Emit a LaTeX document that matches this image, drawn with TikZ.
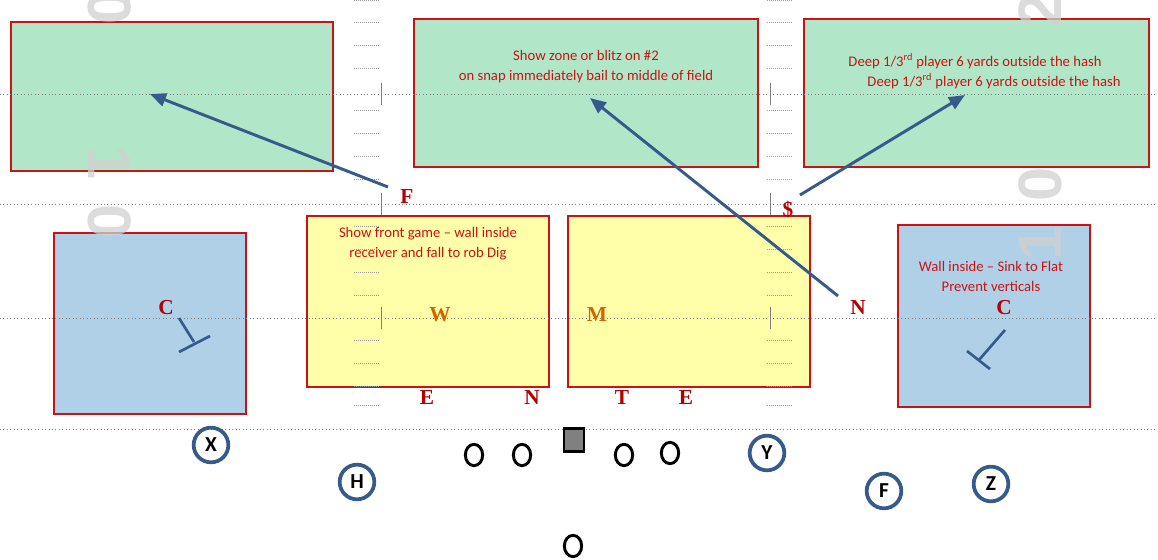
\documentclass[tikz,border=0pt]{standalone}
\usepackage{fontspec}
\setmainfont{Carlito}
\newfontfamily\numfont{Liberation Sans}
\newfontfamily\serf{Liberation Serif}
\usetikzlibrary{arrows.meta,shapes.geometric}
\definecolor{zgreen}{RGB}{178,230,200}
\definecolor{zyellow}{RGB}{255,255,170}
\definecolor{zblue}{RGB}{176,208,232}
\definecolor{zred}{RGB}{200,20,20}
\definecolor{lred}{RGB}{180,0,0}
\definecolor{arr}{RGB}{55,90,140}
\definecolor{wor}{RGB}{210,100,0}
\begin{document}
\begin{tikzpicture}[x=0.75pt,y=-0.75pt,
  zone/.style={draw=zred,line width=0.8pt},
  txt/.style={text=zred,font=\fontsize{11}{15}\selectfont,align=center,inner sep=0},
  lab/.style={text=lred,font=\serf\bfseries\fontsize{16}{16}\selectfont,inner sep=1pt},
  mv/.style={draw=arr,line width=2.2pt,-{Triangle[length=12pt,width=10pt]}},
  ply/.style={circle,draw=arr,line width=2.8pt,minimum size=26pt,inner sep=0,font=\bfseries\fontsize{16}{16}\selectfont},
  ol/.style={ellipse,draw=black,line width=2.2pt,minimum width=13pt,minimum height=16pt,inner sep=0},
  yl/.style={draw=gray,dotted,line width=0.6pt},
  hm/.style={draw=gray!80,densely dotted,line width=0.5pt},
  ydnum/.style={text=black!18,font=\numfont\bfseries\fontsize{46}{46}\selectfont,inner sep=0}]
\useasboundingbox (0,0) rectangle (1158,560);
\fill[white] (0,0) rectangle (1158,560);
% zones
\filldraw[zone,fill=zgreen] (11,22) rectangle (333,171);
\filldraw[zone,fill=zgreen] (414,19) rectangle (758,167);
\filldraw[zone,fill=zgreen] (804,19) rectangle (1149,167);
\filldraw[zone,fill=zyellow] (307,216) rectangle (549,387);
\filldraw[zone,fill=zyellow] (568,216) rectangle (810,387);
\filldraw[zone,fill=zblue] (54,233) rectangle (246,414);
\filldraw[zone,fill=zblue] (898,225) rectangle (1090,407);
% yard numbers
\begin{scope}[opacity=0.75]
\node[ydnum,rotate=-90] (n1) at (110,163) {1};
\node[ydnum,rotate=-90] (n2) at (110,222) {0};
\node[ydnum,rotate=-90] (n3) at (110,8) {0};
\node[ydnum,rotate=90] (n4) at (1040,184) {0};
\node[ydnum,rotate=90] (n5) at (1040,243) {1};
\node[ydnum,rotate=90] (n6) at (1040,10) {2};
\end{scope}
% yard lines
\foreach \y in {94,204,318,429} \draw[yl] (0,\y) -- (1158,\y);
% hash marks
\foreach \y in {0,22,45,68,110,133,156,179,226,249,272,295,340,363,386,405}{
  \draw[hm] (354,\y) -- (380,\y);
  \draw[hm] (767,\y) -- (793,\y);}
\foreach \y in {94,204,318}{
  \draw[gray,line width=0.5pt] (381,\y-11) -- (381,\y+11);
  \draw[gray,line width=0.5pt] (770,\y-11) -- (770,\y+11);}
% texts
\node[txt] (t1) at (586,67) {Show zone or blitz on \#2\\on snap immediately bail to middle of field};
\node[txt] (t2a) at (975,61) {Deep 1/3\textsuperscript{rd} player 6 yards outside the hash};
\node[txt] (t2b) at (994,81) {Deep 1/3\textsuperscript{rd} player 6 yards outside the hash};
\node[txt] (t3) at (428,244) {Show front game -- wall inside\\receiver and fall to rob Dig};
\node[txt] (t4) at (991,276) {Wall inside -- Sink to Flat\\Prevent verticals};
% defenders
\node[lab] (F) at (407,197) {F};
\node[lab] (Nd) at (858,308) {N};
\node[lab] (S) at (788,210) {\$};
\node[lab,text=wor] (W) at (440,315) {W};
\node[lab,text=wor] (M) at (597,315) {M};
\node[lab] (E1) at (427,398) {E};
\node[lab] (N2) at (532,398) {N};
\node[lab] (T) at (622,398) {T};
\node[lab] (E2) at (686,398) {E};
\node[lab] (C1) at (166,308) {C};
\node[lab] (C2) at (1004,308) {C};
\coordinate (fa) at (150,94);
\coordinate (na) at (590,98);
\coordinate (sa) at (965,95);
\coordinate (fs) at (388,187);
\coordinate (ns) at (838,296);
\coordinate (ss) at (800,195);
\draw[mv] (fs) -- (fa);
\draw[mv] (ns) -- (na);
\draw[mv] (ss) -- (sa);
% T marks
\coordinate (c1a) at (179,318); \coordinate (c1b) at (194,342);
\draw[arr,line width=2pt] (c1a) -- (c1b);
\draw[arr,line width=2pt] (179,352) -- (210,336);
\coordinate (c2a) at (1005,330); \coordinate (c2b) at (979,360);
\draw[arr,line width=2pt] (c2a) -- (c2b);
\draw[arr,line width=2pt] (967,351) -- (990,369);
% offense
\node[ply] (X) at (211,445) {X};
\node[ply] (H) at (357,482) {H};
\node[ply] (Y) at (767,453) {Y};
\node[ply] (Fo) at (884,491) {F};
\node[ply] (Z) at (991,484) {Z};
\node[ol] (o1) at (474,455) {};
\node[ol] (o2) at (522,455) {};
\node[ol] (o3) at (624,455) {};
\node[ol] (o4) at (670,453) {};
\node[ol] (qb) at (573,546) {};
\node[draw=black,fill=gray,line width=2.2pt,minimum width=15pt,minimum height=17pt,inner sep=0] (ctr) at (574,440) {};
\end{tikzpicture}
\end{document}
